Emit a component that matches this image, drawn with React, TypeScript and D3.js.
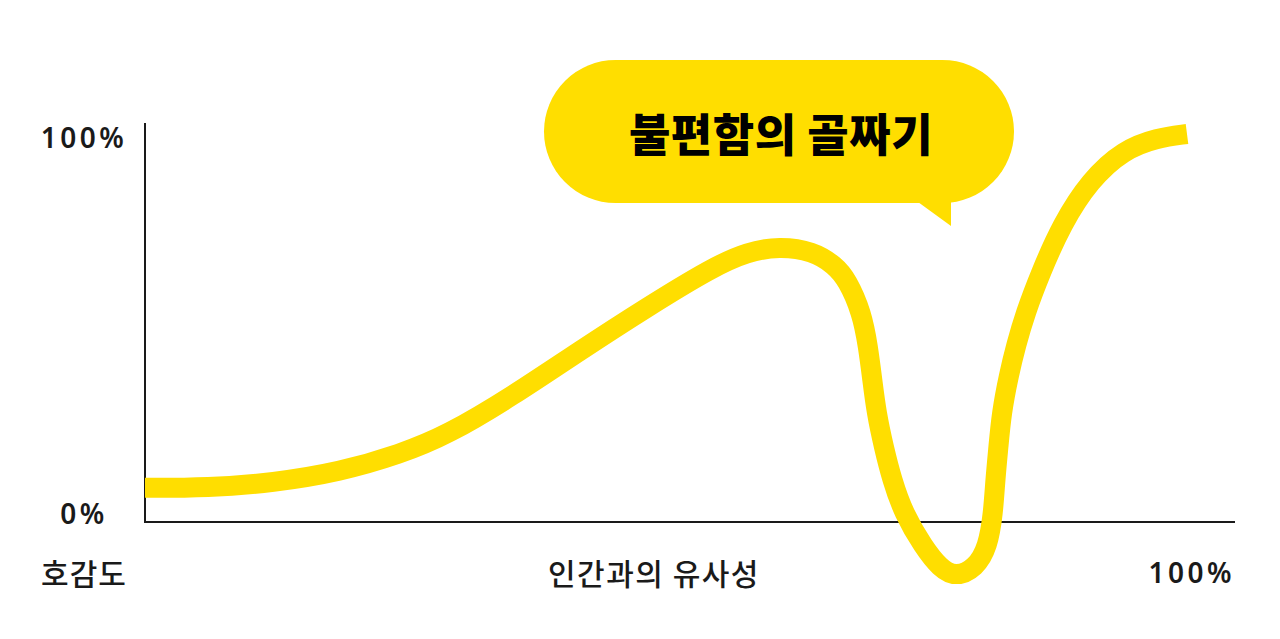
import React, { useRef, useEffect } from "react";
import * as d3 from "d3";

// 인간과의 유사성 (%) vs 호감도 (%)
const similarity = [0.0, 6.0, 12.3, 18.7, 24.5, 29.0, 35.3, 41.7, 48.2, 54.5, 57.8, 60.9, 64.1, 66.2, 67.4, 68.8, 69.4, 69.8, 70.2, 70.9, 71.7, 72.8, 74.7, 76.3, 77.8, 79.7, 80.9, 81.4, 81.6, 81.9, 82.2, 82.9, 83.6, 84.5, 85.9, 88.0, 90.7, 93.9, 97.1, 100];
const affinity = [8.8, 8.8, 10.1, 12.9, 17.5, 22.4, 32.5, 44.1, 55.4, 65.7, 69.6, 71.1, 69.8, 66.2, 62.4, 53.9, 45.1, 36.6, 28.1, 19.3, 10.8, 2.3, -6.4, -11.9, -14.2, -11.9, -6.4, 2.3, 10.8, 19.3, 28.1, 37.9, 45.6, 53.9, 63.9, 76.8, 88.1, 95.9, 99.0, 100];

const yTickValues = [0, 100];
const yTickLabels = ["0%", "100%"];
const xEndLabel = "100%";
const yTitle = "호감도";
const xTitle = "인간과의 유사성";
const bubbleText = "불편함의 골짜기";

const YELLOW = "#FFDE00";
const INK = "#1a1a1a";
const LATIN = "'Noto Sans', 'Noto Sans CJK KR', sans-serif";
const KR = "'Noto Sans CJK KR', 'Noto Sans', sans-serif";

const App = () => {
  const canvas = useRef<HTMLDivElement>(null);

  const width = 1280;
  const height = 639;
  const margin = { top: 123, right: 45, bottom: 117, left: 145 };
  const axisBottom = height - margin.bottom; // 522
  const axisRight = width - margin.right; // 1235

  const xScale = d3.scaleLinear().domain([0, 100]).range([margin.left, 1187]);
  const yScale = d3.scaleLinear().domain([0, 100]).range([axisBottom, 134]);

  const draw = () => {
    const root = d3.select(canvas.current);
    root.selectAll("*").remove();

    const svg = root
      .append("svg")
      .attr("width", width)
      .attr("height", height)
      .style("display", "block")
      .style("position", "absolute")
      .style("left", "0px")
      .style("top", "0px")
      .style("background", "#fff");

    // axes
    svg.append("line")
      .attr("x1", margin.left).attr("x2", margin.left)
      .attr("y1", margin.top).attr("y2", axisBottom)
      .attr("stroke", INK).attr("stroke-width", 2);
    svg.append("line")
      .attr("x1", margin.left - 1).attr("x2", axisRight)
      .attr("y1", axisBottom).attr("y2", axisBottom)
      .attr("stroke", INK).attr("stroke-width", 2);

    // y tick labels
    svg.selectAll("text.ytick")
      .data(yTickValues)
      .enter()
      .append("text")
      .attr("class", "ytick")
      .attr("x", 84)
      .attr("y", (d) => yScale(d) + (d === 0 ? -9 : 3))
      .attr("text-anchor", "middle")
      .attr("dominant-baseline", "central")
      .style("font-family", LATIN)
      .style("font-weight", 600)
      .style("font-size", "28px")
      .style("letter-spacing", "3.5px")
      .attr("fill", INK)
      .text((d, i) => yTickLabels[i]);

    // bottom row labels
    const labelY = 572;
    svg.append("text")
      .attr("x", 84).attr("y", labelY)
      .attr("text-anchor", "middle").attr("dominant-baseline", "central")
      .style("font-family", KR).style("font-weight", 500).style("font-size", "30px")
      .style("letter-spacing", "1px")
      .attr("fill", INK)
      .text(yTitle);
    svg.append("text")
      .attr("x", 654).attr("y", labelY)
      .attr("text-anchor", "middle").attr("dominant-baseline", "central")
      .style("font-family", KR).style("font-weight", 500).style("font-size", "30px")
      .style("letter-spacing", "1.5px")
      .attr("fill", INK)
      .text(xTitle);
    svg.append("text")
      .attr("x", axisRight).attr("y", labelY)
      .attr("text-anchor", "end").attr("dominant-baseline", "central")
      .style("font-family", LATIN).style("font-weight", 600).style("font-size", "28px")
      .style("letter-spacing", "3.5px")
      .attr("fill", INK)
      .text(xEndLabel);

    // speech bubble
    const bx = 544, by = 60, bw = 470, bh = 143;
    const bubble = svg.append("g");
    bubble.append("rect")
      .attr("x", bx).attr("y", by).attr("width", bw).attr("height", bh)
      .attr("rx", bh / 2).attr("ry", bh / 2)
      .attr("fill", YELLOW);
    bubble.append("path")
      .attr("d", `M918,${by + bh - 1} L951,${by + bh - 1} L951,226 Z`)
      .attr("fill", YELLOW);
    bubble.append("text")
      .attr("x", 781).attr("y", 132)
      .attr("text-anchor", "middle").attr("dominant-baseline", "central")
      .style("font-family", KR).style("font-weight", 900).style("font-size", "45px")
      .style("letter-spacing", "0.5px")
      .attr("fill", "#000")
      .text(bubbleText);

    // the curve
    const pts: [number, number][] = similarity.map((s, i) => [s, affinity[i]]);
    const line = d3.line<[number, number]>()
      .x((d) => xScale(d[0]))
      .y((d) => yScale(d[1]))
      .curve(d3.curveBasis);

    svg.append("path")
      .datum(pts)
      .attr("d", line)
      .style("fill", "none")
      .style("stroke", YELLOW)
      .style("stroke-width", 20)
      .style("stroke-linecap", "butt")
      .style("stroke-linejoin", "round");
  };

  useEffect(() => {
    draw();
  });

  return <div ref={canvas} style={{ width: 1280, height: 639 }}></div>;
};

export default App;
